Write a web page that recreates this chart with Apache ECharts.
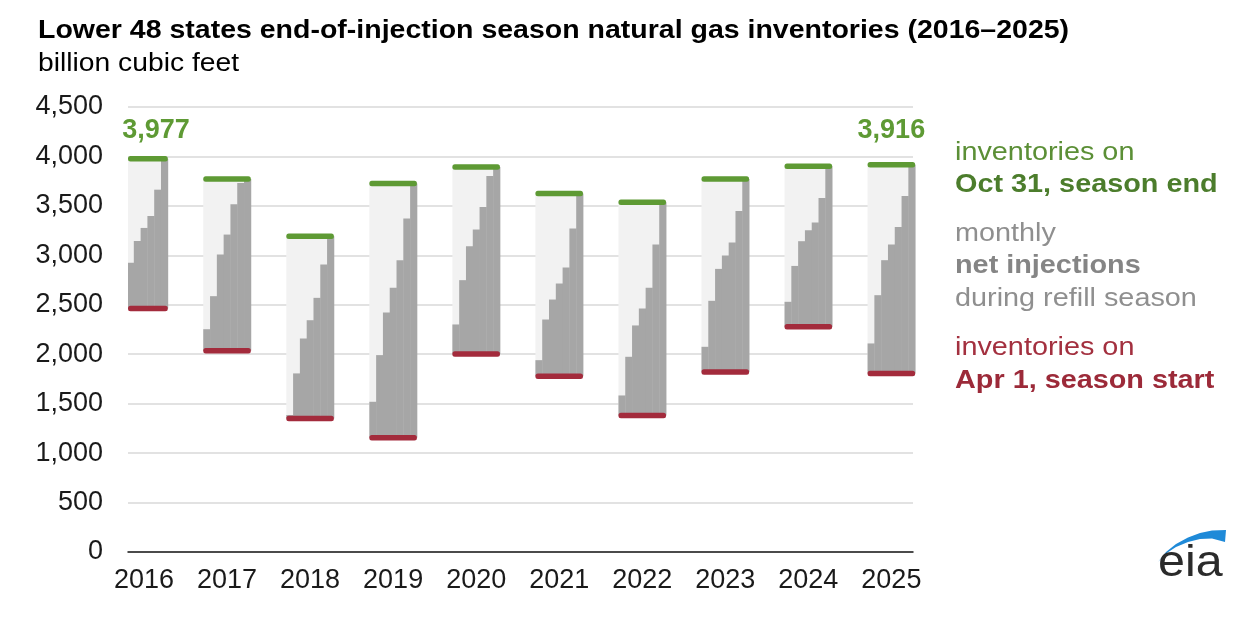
<!DOCTYPE html>
<html>
<head>
<meta charset="utf-8">
<title>Lower 48 end-of-injection season inventories</title>
<script src="https://cdn.jsdelivr.net/npm/echarts@6/dist/echarts.min.js"></script>
<style>
  html, body { margin: 0; padding: 0; background: #fff; }
  #chart { width: 1260px; height: 628px; }
</style>
</head>
<body>
<div id="chart"></div>
<script>
// billion cubic feet
const years = ['2016', '2017', '2018', '2019', '2020', '2021', '2022', '2023', '2024', '2025'];
const aprilStart = [2462, 2034, 1351, 1155, 2001, 1778, 1381, 1819, 2277, 1805];
const octoberEnd = [3977, 3772, 3193, 3726, 3894, 3625, 3537, 3772, 3900, 3916];
// end-of-month inventories Apr..Sep (Oct column = octoberEnd)
const monthEnd = [
  [2580, 2925, 3145, 3277, 3398, 3664],
  [2253, 2587, 3008, 3210, 3516, 3732],
  [1385, 1806, 2159, 2344, 2570, 2907],
  [1519, 1991, 2422, 2671, 2951, 3372],
  [2301, 2749, 3092, 3261, 3489, 3803],
  [1940, 2351, 2553, 2715, 2877, 3271],
  [1583, 1974, 2291, 2462, 2671, 3109],
  [2075, 2540, 2863, 2998, 3130, 3449],
  [2530, 2893, 3143, 3254, 3332, 3580],
  [2109, 2597, 2951, 3109, 3287, 3600]
];
const yTicks = [0, 500, 1000, 1500, 2000, 2500, 3000, 3500, 4000, 4500];

const FONT = '"Liberation Sans", Arial, sans-serif';
const GREEN = '#5e9a34';
const RED = '#a32b3c';
const STRETCH = 1.13; // source image text is a bit wide

let chart = echarts.init(document.getElementById('chart'));

function fmt(v) {
  return Number(v).toLocaleString('en-US');
}

function renderSeason(params, api) {
  let i = api.value(0);
  let start = api.value(1);
  let end = api.value(2);
  let levels = monthEnd[i].concat([end]);
  let bottom = api.coord([i, start]);
  let top = api.coord([i, end]);
  let w = api.size([1, 0])[0] * 0.573;
  let left = bottom[0] - w / 2;
  let cs = params.coordSys;
  // only clip on the left side, like the original (first bar is cut by the plot edge)
  let box = { x: cs.x, y: cs.y - 60, width: cs.width + 60, height: cs.height + 120 };
  let kids = [];
  let addRect = function (shape, style, r) {
    let c = echarts.graphic.clipRectByRect(shape, box);
    if (!c) return;
    if (r) c.r = r;
    kids.push({ type: 'rect', shape: c, style: style });
  };
  addRect({ x: left, y: top[1], width: w, height: bottom[1] - top[1] }, { fill: '#f2f2f2' });
  let colW = w / levels.length;
  levels.forEach(function (lv, k) {
    let yTop = api.coord([i, lv])[1];
    addRect({ x: left + k * colW, y: yTop, width: colW + 0.4, height: bottom[1] - yTop }, { fill: '#a6a6a6' });
  });
  let capH = 5.5;
  addRect({ x: left, y: top[1] - capH / 2, width: w, height: capH }, { fill: GREEN }, 2.5);
  addRect({ x: left, y: bottom[1] - capH / 2, width: w, height: capH }, { fill: RED }, 2.5);

  // callouts on first and last year
  if (i === 0 || i === years.length - 1) {
    let p = api.coord([i, 4260]);
    kids.push({
      type: 'text',
      style: {
        text: fmt(end),
        x: i === 0 ? left + 2 : p[0],
        y: p[1],
        align: i === 0 ? 'left' : 'center',
        verticalAlign: 'middle',
        fill: GREEN,
        font: 'bold 27px ' + FONT
      }
    });
  }
  return { type: 'group', children: kids };
}

let legendLines = [
  ['inventories on', 153, 'normal', '#5b8f36'],
  ['Oct 31, season end', 185, 'bold', '#4c7d2c'],
  ['monthly', 234, 'normal', '#8f8f8f'],
  ['net injections', 266, 'bold', '#858585'],
  ['during refill season', 299, 'normal', '#8f8f8f'],
  ['inventories on', 348, 'normal', '#a3303f'],
  ['Apr 1, season start', 381, 'bold', '#9c2a39']
];

let graphics = [
  {
    type: 'text', x: 38, y: 31, scaleX: STRETCH + 0.01,
    style: { text: 'Lower 48 states end-of-injection season natural gas inventories (2016\u20132025)',
      font: 'bold 25px ' + FONT, fill: '#000', verticalAlign: 'middle' }
  },
  {
    type: 'text', x: 38, y: 64, scaleX: STRETCH,
    style: { text: 'billion cubic feet', font: '25px ' + FONT, fill: '#000', verticalAlign: 'middle' }
  }
];
legendLines.forEach(function (l) {
  graphics.push({
    type: 'text', x: 955, y: l[1], scaleX: STRETCH,
    style: { text: l[0], font: l[2] + ' 25.5px ' + FONT, fill: l[3], verticalAlign: 'middle' }
  });
});
// eia logo
graphics.push({
  type: 'polygon', silent: true,
  shape: { points: [[1158, 562], [1166, 552], [1176, 544], [1188, 537.5], [1200, 533], [1212, 530.5], [1226, 530],
                    [1225, 542], [1212, 538.5], [1200, 539], [1188, 542], [1176, 547], [1166, 553.5]] },
  style: { fill: '#1f8ad8' }
});
graphics.push({
  type: 'text', x: 1158, y: 564, scaleX: 1.1,
  style: { text: 'eia', font: '44px ' + FONT, fill: '#2b2b2b', verticalAlign: 'middle' }
});

let option = {
  animation: false,
  backgroundColor: '#fff',
  textStyle: { fontFamily: FONT },
  grid: { left: 128, right: 1260 - 913, top: 107, bottom: 76 },
  xAxis: {
    type: 'value',
    min: -0.1927,
    max: 9.2606,
    splitLine: { show: false },
    axisTick: { show: false },
    axisLine: { show: true, lineStyle: { color: '#1a1a1a', width: 1.5 } },
    axisLabel: {
      customValues: years.map(function (y, i) { return i; }),
      formatter: function (v) { return years[Math.round(v)]; },
      fontSize: 27, color: '#1a1a1a', margin: 15
    }
  },
  yAxis: {
    type: 'value',
    min: yTicks[0],
    max: yTicks[yTicks.length - 1],
    interval: 500,
    axisLine: { show: false },
    axisTick: { show: false },
    splitLine: { lineStyle: { color: '#d9d9d9', width: 1.5 } },
    axisLabel: { fontSize: 27, color: '#1a1a1a', margin: 25, formatter: fmt }
  },
  series: [{
    type: 'custom',
    renderItem: renderSeason,
    encode: { x: 0, y: [1, 2] },
    data: years.map(function (y, i) { return [i, aprilStart[i], octoberEnd[i]]; })
  }],
  graphic: graphics
};

chart.setOption(option);
</script>
</body>
</html>
